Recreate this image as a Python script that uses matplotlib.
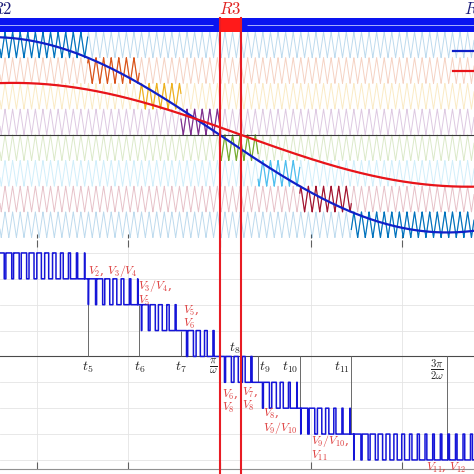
import numpy as np
import matplotlib
matplotlib.use('Agg')
import matplotlib.pyplot as plt
import matplotlib.transforms as mtransforms
from matplotlib.lines import Line2D

plt.rcParams['mathtext.fontset'] = 'cm'
plt.rcParams['font.family'] = ['DejaVu Serif']

# ---------------- data ----------------
f_fund_hz = 50.0            # fundamental frequency
f_carrier_hz = 6000.0       # carrier frequency
ref_amp = 3.8               # blue modulating signal amplitude (carrier-band units)
aux_amp = 2.02              # red signal amplitude
aux_phase_rad = 0.148       # red signal lag
carrier_peak_ms = 0.12      # carrier phase (time of a peak)
band_bottoms = [3, 2, 1, 0, -1, -2, -3, -4]
carrier_colors = ['#0072BD', '#D95319', '#EDB120', '#7E2F8E',
                  '#77AC30', '#4DBEEE', '#A2142F', '#0072BD']
t_window_ms = [5.176, 15.593]
grid_ticks_ms = [6, 8, 10, 12, 14]
region_labels = ['$R2$', '$R3$', '$R4$']
region_label_t = [5.2, None, 15.62]
level_marks = [3, 2, 1, -1, -2, -3]
level_mark_labels = ['$t_5$', '$t_6$', '$t_7$', '$t_9$', '$t_{10}$', '$t_{11}$']
vector_labels = [r'$V_2$, $V_3/V_4$',
                 '$V_3/V_4$,\n$V_5$',
                 '$V_5$,\n$V_6$',
                 '$V_6$,\n$V_8$',
                 '$V_7$,\n$V_8$',
                 '$V_8$,\n$V_9/V_{10}$',
                 '$V_9/V_{10}$,\n$V_{11}$',
                 '$V_{11}$, $V_{12}$']
vector_label_t = [7.11, 8.21, 9.20, 10.055, 10.495, 10.956, 12.011, 14.538]
vector_label_lvl = [3.29, 2.44, 1.51, -1.72, -1.67, -2.52, -3.55, -4.30]
legend_labels = ['vref', 'vaux']

# ---------------- signals ----------------
W, H = 474, 474
omega = 2 * np.pi * f_fund_hz / 1000.0        # rad / ms
Tc = 1000.0 / f_carrier_hz                    # ms
t = np.linspace(t_window_ms[0] - 0.2, t_window_ms[1] + 0.2, 80001)
ref = ref_amp * np.sin(omega * t)
aux = aux_amp * np.sin(omega * t - aux_phase_rad)
tri = 1 - 2 * np.abs(((t - carrier_peak_ms) / Tc + 0.5) % 1 - 0.5)
carriers = [b + tri for b in band_bottoms]
out = np.sum([ref > c for c in carriers], axis=0) + min(band_bottoms)

t_half = np.pi / omega            # pi/omega
t_34 = 1.5 * np.pi / omega        # 3pi/(2 omega)
t8 = (np.pi + aux_phase_rad) / omega


def t_of_level(L):
    a = np.arcsin(abs(L) / ref_amp)
    return (np.pi - a) / omega if L > 0 else (np.pi + a) / omega


def py(px_top, px_bot):
    return [(H - px_bot) / H, (px_bot - px_top) / H]


fig = plt.figure(figsize=(W / 100, H / 100), dpi=100)

# ---------------- top strip ----------------
b, h = py(18, 32)
ax_s = fig.add_axes([0, b, 1, h])
ax_s.set_xlim(t_window_ms)
ax_s.set_ylim(0, 1)
ax_s.axis('off')
blue_bar = '#0a14f0'
ax_s.axvspan(t_window_ms[0] - 1, t_half, color=blue_bar, lw=0)
ax_s.axvspan(t_half, t8, color='#ff1a1a', lw=0)
ax_s.axvspan(t8, t_window_ms[1] + 1, color=blue_bar, lw=0)
ax_s.hlines(0.5, t_window_ms[0] - 1, t_half - 0.14, color='#a8b0ff', lw=0.7)
ax_s.hlines(0.5, t8 + 0.14, t_window_ms[1] + 1, color='#a8b0ff', lw=0.7)

tr_lab = mtransforms.blended_transform_factory(ax_s.transData, fig.transFigure)
r_pos = [region_label_t[0], 0.5 * (t_half + t8), region_label_t[2]]
r_col = ['#1c1c7a', '#e0201e', '#1c1c7a']
for lab, x, c in zip(region_labels, r_pos, r_col):
    fig.text(x, (H - 9) / H, lab, transform=tr_lab, ha='center', va='center',
             fontsize=12, color=c)

# ---------------- upper panel ----------------
b, h = py(32, 237.6)
ax_u = fig.add_axes([0, b, 1, h])
ax_u.set_xlim(t_window_ms)
ax_u.set_ylim(-4, 4)
for bb, c, col in zip(band_bottoms, carriers, carrier_colors):
    ax_u.plot(t, c, color=col, lw=0.7, alpha=0.26)
    mask = (ref >= bb) & (ref < bb + 1)
    ax_u.plot(t, np.where(mask, c, np.nan), color=col, lw=0.85)
ax_u.axhline(0, color='#3a3a3a', lw=0.8)
l1, = ax_u.plot(t, ref, color='#1020c8', lw=1.6)
l2, = ax_u.plot(t, aux, color='#e8141a', lw=1.6)
for s in ax_u.spines.values():
    s.set_visible(False)
ax_u.set_yticks([])
ax_u.set_xticks(grid_ticks_ms)
ax_u.tick_params(axis='x', direction='in', length=3, labelbottom=False, color='#555')
ax_u.legend([l1, l2], legend_labels, loc='upper left', frameon=False,
            bbox_to_anchor=(453 / W, (H - 45) / H), bbox_transform=fig.transFigure,
            borderpad=0, borderaxespad=0, handlelength=2.4, fontsize=10,
            labelspacing=0.45)

# ---------------- lower panel ----------------
b, h = py(240, 469)
ax_l = fig.add_axes([0, b, 1, h])
ax_l.set_xlim(t_window_ms)
ax_l.set_ylim(-4.35, 4.5)
for L in [4, 3, 2, 1, -1, -2, -3, -4]:
    ax_l.axhline(L, color='#e4e4e4', lw=0.6, zorder=0)
for g in grid_ticks_ms:
    ax_l.axvline(g, color='#e4e4e4', lw=0.6, zorder=0)
ax_l.axhline(0, color='#4a4a4a', lw=0.8, zorder=1)
ax_l.plot(t, out, drawstyle='steps-post', color='#1515d8', lw=1.1, zorder=3)

for s in ['top', 'left', 'right']:
    ax_l.spines[s].set_visible(False)
ax_l.spines['bottom'].set_color('#909090')
ax_l.set_yticks([])
ax_l.set_xticks(grid_ticks_ms)
ax_l.tick_params(axis='x', direction='in', length=5, labelbottom=False,
                 top=True, color='#606060')

mark_ha = ['center', 'center', 'center', 'left', 'right', 'right']
mark_dx = [0, 0, 0, 0.03, -0.03, -0.03]
for L, lab, ha, dx in zip(level_marks, level_mark_labels, mark_ha, mark_dx):
    tk = t_of_level(L)
    ax_l.vlines(tk, min(0, L), max(0, L), color='#6a6a6a', lw=0.7, zorder=2)
    ax_l.text(tk + dx, -0.12, lab, ha=ha, va='top', fontsize=10, color='#222')
ax_l.vlines(t_34, -4, 0, color='#6a6a6a', lw=0.7, zorder=2)
ax_l.text(t_half - 0.04, -0.02, r'$\frac{\pi}{\omega}$', ha='right', va='top',
          fontsize=11, color='#222')
ax_l.text(t_34 - 0.06, -0.02, r'$\frac{3\pi}{2\omega}$', ha='right', va='top',
          fontsize=11, color='#222')
ax_l.text(t8 - 0.02, 0.02, r'$t_8$', ha='right', va='bottom', fontsize=10,
          color='#222')

for lab, x, y in zip(vector_labels, vector_label_t, vector_label_lvl):
    ax_l.text(x, y, lab, ha='left', va='center', fontsize=8.5,
              color='#dd3b3b', linespacing=1.0, zorder=4)

# ---------------- red boundary lines ----------------
tr_v = mtransforms.blended_transform_factory(ax_l.transData, fig.transFigure)
for x in [t_half, t8]:
    fig.add_artist(Line2D([x, x], [0, (H - 18) / H], transform=tr_v,
                          color='#e81c24', lw=1.5, zorder=10))

fig.savefig('out.png', dpi=100)
